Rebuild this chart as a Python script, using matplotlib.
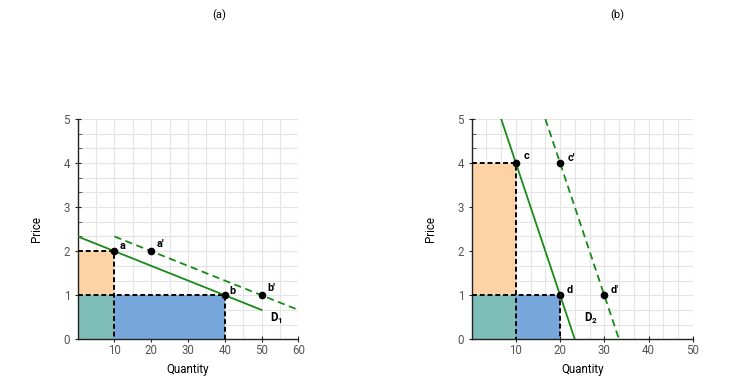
import matplotlib
matplotlib.use("Agg")
import matplotlib.pyplot as plt
import numpy as np
from matplotlib.ticker import MultipleLocator

plt.rcParams['font.family'] = ['Roboto', 'DejaVu Sans']
plt.rcParams['mathtext.fontset'] = 'custom'
plt.rcParams['mathtext.bf'] = 'Roboto:bold'
plt.rcParams['mathtext.rm'] = 'Roboto'

# ---- data ----
titles = ["(a)", "(b)"]
xmax = [60, 50]
ymax = 5
# demand lines: (x0, y0, x1, y1)
d1_solid = [0, 7/3, 50, 2/3]
d1_dash = [10, 7/3, 60, 2/3]
d2_solid = [20/3, 5, 70/3, 0]
d2_dash = [50/3, 5, 100/3, 0]
# points
pts_a = {"a": (10, 2), "a'": (20, 2), "b": (40, 1), "b'": (50, 1)}
pts_b = {"c": (10, 4), "c'": (20, 4), "d": (20, 1), "d'": (30, 1)}
# rectangles: (x0, y0, x1, y1)
rect_orange_a = (0, 1, 10, 2)
rect_teal_a = (0, 0, 10, 1)
rect_blue_a = (10, 0, 40, 1)
rect_orange_b = (0, 1, 10, 4)
rect_teal_b = (0, 0, 10, 1)
rect_blue_b = (10, 0, 20, 1)
curve_labels = [("D", "1", 52.3, 0.48), ("D", "2", 25.5, 0.48)]

ORANGE = "#fdd3a6"
TEAL = "#7fbdb8"
BLUE = "#77a6db"
GREEN = "#178a17"

W, H = 747, 386
fig = plt.figure(figsize=(W/100, H/100), dpi=100)

axA = fig.add_axes([77.7/W, 1 - 339.3/H, 220.6/W, 220.3/H])
axB = fig.add_axes([471.7/W, 1 - 339.3/H, 221/W, 220.3/H])

def setup(ax, xm, xminor):
    ax.set_xlim(0, xm)
    ax.set_ylim(0, ymax)
    ax.xaxis.set_major_locator(MultipleLocator(10))
    ax.xaxis.set_minor_locator(MultipleLocator(xminor))
    ax.yaxis.set_major_locator(MultipleLocator(1))
    ax.yaxis.set_minor_locator(MultipleLocator(1/3))
    ax.grid(True, which='both', color='#e4e4e4', lw=0.8)
    ax.set_axisbelow(True)
    for s in ['top', 'right']:
        ax.spines[s].set_visible(False)
    for s in ['left', 'bottom']:
        ax.spines[s].set_color('#222222')
        ax.spines[s].set_linewidth(1.0)
    ax.tick_params(which='major', length=4, color='#222222', labelsize=8.3,
                   labelcolor='#555555', direction='inout')
    ax.tick_params(axis='x', which='major', pad=1.5)
    ax.tick_params(which='minor', length=3, color='#444444', direction='in')
    ax.tick_params(axis='x', which='minor', length=0)
    ax.set_xticks([t for t in range(10, xm + 1, 10)])
    ax.set_xticklabels([str(t) for t in range(10, xm + 1, 10)])
    ax.text(0.5, (339.3 - 369) / 220.3, "Quantity", fontsize=8.3,
            transform=ax.transAxes, ha='center', va='center')
    ax.text((37 - 77.7) / 220.6, 0.5, "Price", fontsize=8.3, rotation=90,
            transform=ax.transAxes, ha='center', va='center')

def rect(ax, r, c):
    x0, y0, x1, y1 = r
    ax.fill([x0, x1, x1, x0], [y0, y0, y1, y1], color=c, lw=0, zorder=1)

def dashed(ax, xs, ys):
    ax.plot(xs, ys, color='black', lw=1.4, ls=(0, (2.5, 1.5)), zorder=3, clip_on=False)

def label(ax, txt, x, y):
    ax.text(x, y, txt, fontsize=7.8, fontweight='bold', ha='left', va='center', zorder=5)

# Panel (a)
setup(axA, xmax[0], 5)
rect(axA, rect_orange_a, ORANGE)
rect(axA, rect_teal_a, TEAL)
rect(axA, rect_blue_a, BLUE)
dashed(axA, [0, 10, 10], [2, 2, 0])
dashed(axA, [0, 40, 40], [1, 1, 0])
axA.plot(d1_solid[0::2], d1_solid[1::2], color=GREEN, lw=1.3, zorder=4)
axA.plot(d1_dash[0::2], d1_dash[1::2], color=GREEN, lw=1.3, ls=(0, (4, 2.5)), zorder=4)
for k, (x, y) in pts_a.items():
    axA.plot(x, y, 'o', color='black', ms=4.5, zorder=6)
label(axA, "a", 11.4, 2.12)
label(axA, "a'", 21.4, 2.16)
label(axA, "b", 41.3, 1.1)
label(axA, "b'", 51.5, 1.16)

# Panel (b)
setup(axB, xmax[1], 10/3)
rect(axB, rect_orange_b, ORANGE)
rect(axB, rect_teal_b, TEAL)
rect(axB, rect_blue_b, BLUE)
dashed(axB, [0, 10, 10], [4, 4, 0])
dashed(axB, [0, 20, 20], [1, 1, 0])
axB.plot(d2_solid[0::2], d2_solid[1::2], color=GREEN, lw=1.3, zorder=4)
axB.plot(d2_dash[0::2], d2_dash[1::2], color=GREEN, lw=1.3, ls=(0, (4, 2.5)), zorder=4)
for k, (x, y) in pts_b.items():
    axB.plot(x, y, 'o', color='black', ms=4.5, zorder=6)
label(axB, "c", 11.8, 4.15)
label(axB, "c'", 21.7, 4.12)
label(axB, "d", 21.5, 1.12)
label(axB, "d'", 31.4, 1.12)

for ax, (d, sub, x, y) in zip([axA, axB], curve_labels):
    ax.text(x, y, r"$\mathbf{" + d + "_" + sub + "}$", fontsize=8.3, ha='left', va='center', zorder=5)

fig.text(219/W, 1 - 15/H, titles[0], fontsize=8, ha='center', va='center')
fig.text(617/W, 1 - 15/H, titles[1], fontsize=8, ha='center', va='center')

fig.savefig("out.png", dpi=100)
